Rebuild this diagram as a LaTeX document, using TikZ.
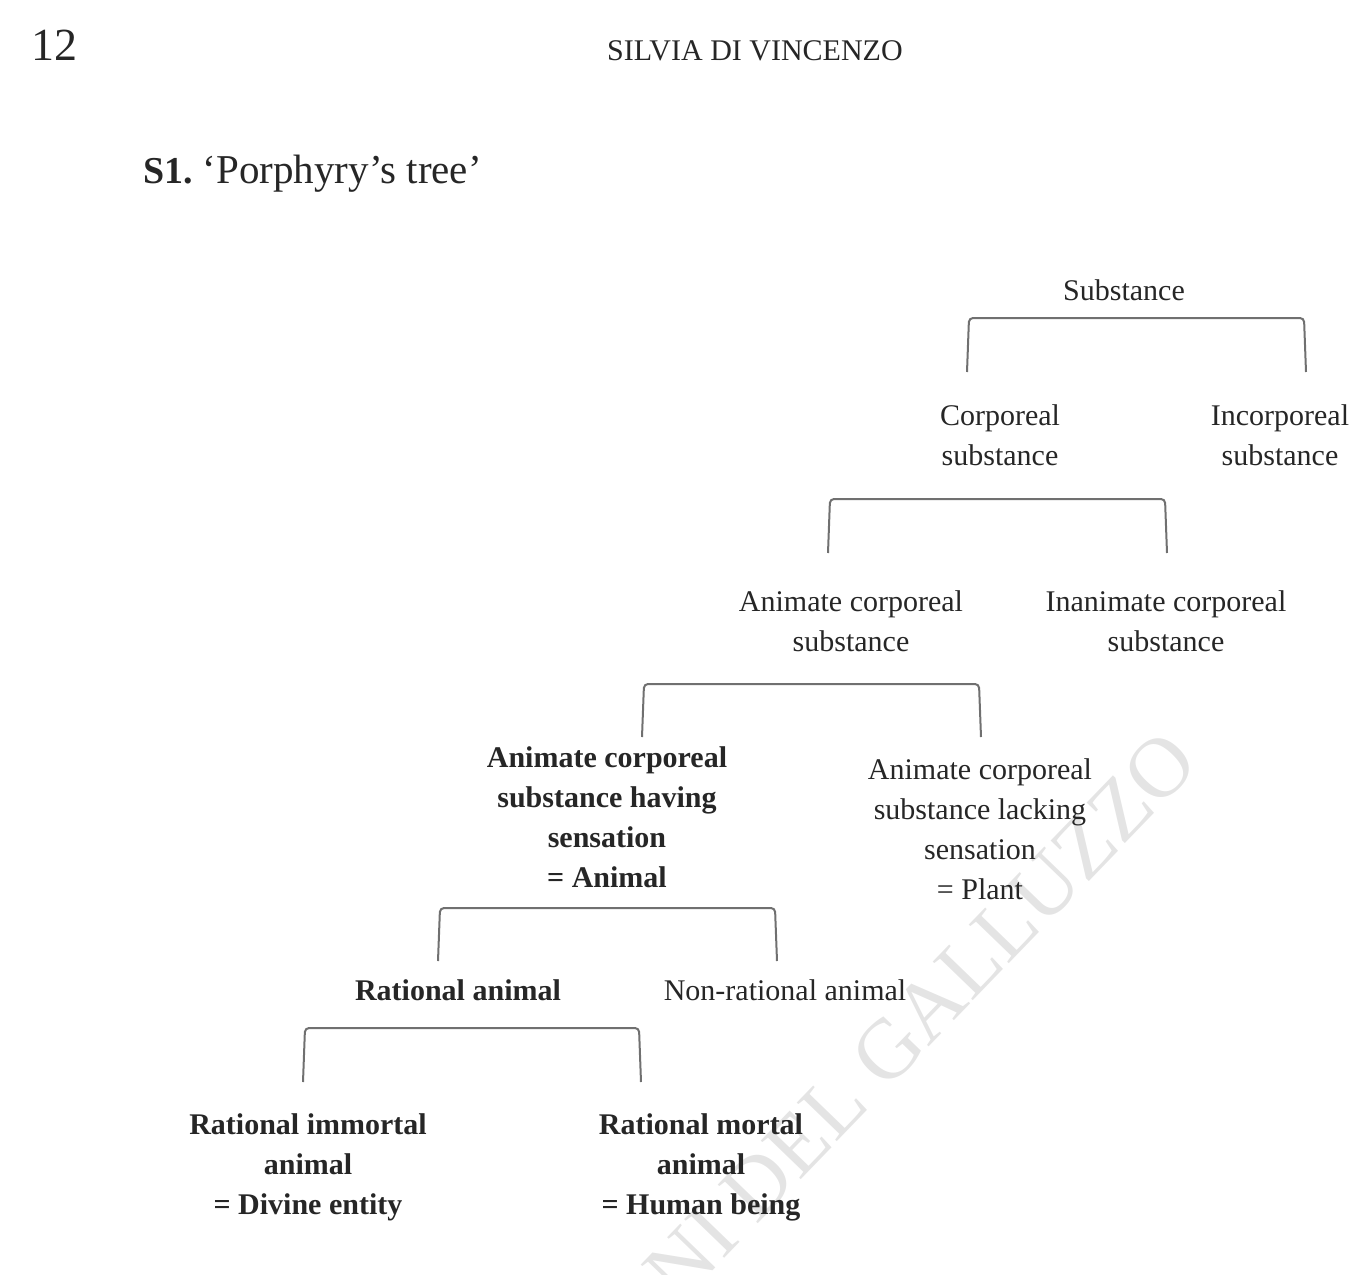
\documentclass[tikz,border=0pt]{standalone}
\usepackage{fontspec}
\setmainfont{Liberation Serif}
\definecolor{ink}{HTML}{262626}
\definecolor{rule}{HTML}{707070}
\definecolor{wm}{HTML}{E4E4E4}
\tikzset{
  lab/.style={align=center,inner sep=0pt,text=ink,font=\fontsize{30}{40}\selectfont},
  blab/.style={lab,font=\fontsize{30}{40}\selectfont\bfseries},
  head/.style={inner sep=0pt,anchor=base west,text=ink},
  brk/.style={draw=rule,line width=2pt,rounded corners=4pt}
}
\begin{document}
\begin{tikzpicture}[x=1pt,y=-1pt]
\useasboundingbox (0,0) rectangle (1369,1275);
\begin{scope}
\clip (0,0) rectangle (1369,1275);
\node[inner sep=0pt,text=wm,rotate=46,anchor=base east,font=\fontsize{85}{85}\selectfont] (wmark) at (1201,765) {EDIZIONI DEL GALLUZZO};
\end{scope}
\node[head,font=\fontsize{46}{46}\selectfont] (page) at (31,60) {12};
\node[head,font=\fontsize{30}{30}\selectfont] (author) at (607,60) {SILVIA DI VINCENZO};
\node[head,font=\fontsize{38}{38}\selectfont] (title) at (143,183) {\textbf{S1.}\hspace{10pt}{\fontsize{41}{41}\selectfont ‘Porphyry’s tree’}};

\node[lab] (n0) at (1124,290) {Substance};
\node[lab] (n1) at (1000,435) {Corporeal\\substance};
\node[lab] (n2) at (1280,435) {Incorporeal\\substance};
\node[lab] (n3) at (851,621) {Animate corporeal\\substance};
\node[lab] (n4) at (1166,621) {Inanimate corporeal\\substance};
\node[blab] (n5) at (607,817) {Animate corporeal\\substance having\\sensation\\= Animal};
\node[lab] (n6) at (980,829) {Animate corporeal\\substance lacking\\sensation\\= Plant};
\node[blab] (n7) at (458,990) {Rational animal};
\node[lab] (n8) at (785,990) {Non-rational animal};
\node[blab] (n9) at (308,1167) {Rational immortal\\animal\\= Divine entity};
\node[blab] (n10) at (701,1167) {Rational mortal\\animal\\= Human being};

\coordinate (a1) at (967,372); \coordinate (a2) at (969,318); \coordinate (a3) at (1304,318); \coordinate (a4) at (1306,372);
\coordinate (b1) at (828,553); \coordinate (b2) at (830,499); \coordinate (b3) at (1165,499); \coordinate (b4) at (1167,553);
\coordinate (c1) at (642,737); \coordinate (c2) at (644,684); \coordinate (c3) at (979,684); \coordinate (c4) at (981,737);
\coordinate (d1) at (438,961); \coordinate (d2) at (440,908); \coordinate (d3) at (775,908); \coordinate (d4) at (777,961);
\coordinate (e1) at (303,1082); \coordinate (e2) at (305,1028); \coordinate (e3) at (639,1028); \coordinate (e4) at (641,1082);
\draw[brk] (a1) -- (a2) -- (a3) -- (a4);
\draw[brk] (b1) -- (b2) -- (b3) -- (b4);
\draw[brk] (c1) -- (c2) -- (c3) -- (c4);
\draw[brk] (d1) -- (d2) -- (d3) -- (d4);
\draw[brk] (e1) -- (e2) -- (e3) -- (e4);
\end{tikzpicture}
\end{document}
